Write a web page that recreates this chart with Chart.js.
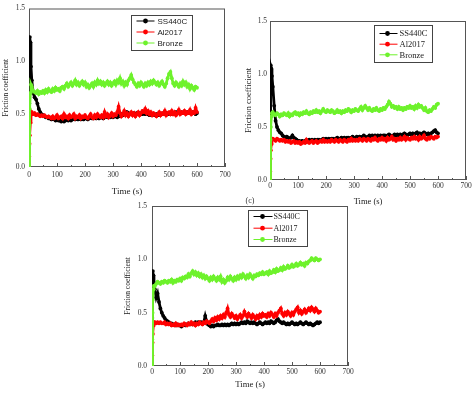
<!DOCTYPE html>
<html><head><meta charset="utf-8">
<script src="https://cdn.jsdelivr.net/npm/chart.js@4.4.1/dist/chart.umd.min.js"></script>
<style>
html,body{margin:0;padding:0;background:#fff;width:474px;height:395px;overflow:hidden;position:relative}
canvas{position:absolute}
</style></head>
<body>
<canvas id="c1" width="237" height="200" style="left:0;top:0"></canvas>
<canvas id="c2" width="237" height="210" style="left:237px;top:0"></canvas>
<canvas id="c3" width="240" height="200" style="left:120px;top:195px"></canvas>
<script>
// ---------- DATA ----------
const seriesLabels = ['SS440C', 'Al2017', 'Bronze'];
const xTicks = [0, 100, 200, 300, 400, 500, 600, 700];
const xMinorTicks = [50, 150, 250, 350, 450, 550, 650];
const yTicks = [0.0, 0.5, 1.0, 1.5];
const xTitle = 'Time (s)';
const yTitle = 'Friction coefficient';

// time (s): 0,1,2,3,5,7 then 10..600 every 5 s
const time = [0,1,2,3,5,7,
 10,15,20,25,30,35,40,45,50,55, 60,65,70,75,80,85,90,95,100,105,
 110,115,120,125,130,135,140,145,150,155, 160,165,170,175,180,185,190,195,200,205,
 210,215,220,225,230,235,240,245,250,255, 260,265,270,275,280,285,290,295,300,305,
 310,315,320,325,330,335,340,345,350,355, 360,365,370,375,380,385,390,395,400,405,
 410,415,420,425,430,435,440,445,450,455, 460,465,470,475,480,485,490,495,500,505,
 510,515,520,525,530,535,540,545,550,555, 560,565,570,575,580,585,590,595,600];

// ---- panel 1 (top left) ----
const p1_ss440c = [0,0.6,1.05,1.23,1.18,0.95,
 0.82,0.70,0.66,0.64,0.60,0.55,0.52,0.50,0.49,0.48, 0.47,0.47,0.46,0.46,0.45,0.46,0.45,0.44,0.45,0.44,
 0.44,0.43,0.44,0.43,0.44,0.45,0.44,0.45,0.44,0.45, 0.46,0.45,0.46,0.45,0.46,0.45,0.46,0.45,0.46,0.46,
 0.45,0.46,0.47,0.46,0.46,0.47,0.46,0.47,0.46,0.47, 0.47,0.46,0.47,0.48,0.47,0.48,0.47,0.48,0.47,0.48,
 0.48,0.47,0.49,0.48,0.50,0.49,0.51,0.50,0.52,0.51, 0.50,0.51,0.50,0.51,0.50,0.51,0.50,0.51,0.50,0.50,
 0.51,0.50,0.51,0.50,0.49,0.50,0.49,0.50,0.49,0.50, 0.50,0.49,0.50,0.50,0.51,0.50,0.51,0.50,0.51,0.50,
 0.51,0.50,0.51,0.52,0.51,0.52,0.51,0.52,0.51,0.52, 0.51,0.52,0.51,0.52,0.51,0.52,0.51,0.50,0.51];
const p1_al2017 = [0,0.1,0.22,0.3,0.42,0.5,
 0.52,0.50,0.51,0.49,0.50,0.49,0.48,0.49,0.48,0.49, 0.48,0.47,0.48,0.47,0.46,0.48,0.46,0.47,0.49,0.46,
 0.47,0.48,0.46,0.50,0.47,0.48,0.46,0.49,0.47,0.48, 0.50,0.46,0.48,0.47,0.49,0.46,0.48,0.47,0.49,0.47,
 0.46,0.48,0.50,0.47,0.46,0.49,0.47,0.50,0.48,0.47, 0.49,0.47,0.52,0.48,0.50,0.47,0.49,0.51,0.48,0.50,
 0.49,0.52,0.57,0.51,0.48,0.50,0.53,0.49,0.51,0.48, 0.50,0.52,0.49,0.51,0.48,0.50,0.52,0.49,0.51,0.53,
 0.52,0.55,0.51,0.53,0.50,0.52,0.49,0.51,0.50,0.48, 0.50,0.52,0.49,0.51,0.50,0.53,0.49,0.51,0.52,0.50,
 0.53,0.50,0.52,0.49,0.51,0.54,0.50,0.52,0.51,0.53, 0.50,0.52,0.51,0.54,0.50,0.52,0.51,0.56,0.52];
const p1_bronze = [0,0.2,0.4,0.55,0.7,0.78,
 0.76,0.72,0.71,0.70,0.72,0.69,0.71,0.70,0.72,0.70, 0.73,0.71,0.74,0.72,0.71,0.74,0.72,0.75,0.73,0.74,
 0.72,0.75,0.76,0.74,0.77,0.79,0.76,0.78,0.80,0.77, 0.79,0.82,0.78,0.80,0.77,0.79,0.81,0.78,0.80,0.76,
 0.78,0.75,0.77,0.79,0.76,0.80,0.78,0.82,0.79,0.81, 0.78,0.80,0.77,0.79,0.81,0.78,0.80,0.77,0.79,0.81,
 0.78,0.82,0.80,0.84,0.79,0.81,0.77,0.80,0.78,0.82, 0.84,0.87,0.83,0.80,0.78,0.76,0.79,0.77,0.80,0.78,
 0.76,0.79,0.77,0.80,0.78,0.81,0.79,0.82,0.80,0.78, 0.80,0.77,0.79,0.81,0.78,0.76,0.79,0.84,0.88,0.90,
 0.84,0.79,0.77,0.80,0.78,0.76,0.79,0.77,0.81,0.78, 0.80,0.76,0.78,0.74,0.77,0.75,0.73,0.76,0.75];

// ---- panel 2 (top right) ----
const p2_ss440c = [0,0.5,0.9,1.08,1.05,0.98,
 0.88,0.70,0.56,0.50,0.47,0.45,0.44,0.42,0.41,0.40, 0.41,0.40,0.39,0.40,0.42,0.40,0.39,0.38,0.37,0.37,
 0.36,0.37,0.36,0.37,0.36,0.37,0.38,0.37,0.38,0.37, 0.38,0.37,0.38,0.38,0.37,0.38,0.39,0.38,0.39,0.38,
 0.39,0.38,0.39,0.39,0.38,0.39,0.40,0.39,0.39,0.40, 0.39,0.40,0.39,0.40,0.40,0.39,0.40,0.41,0.40,0.40,
 0.41,0.40,0.41,0.40,0.41,0.42,0.41,0.40,0.41,0.42, 0.41,0.42,0.41,0.42,0.41,0.42,0.41,0.42,0.41,0.42,
 0.42,0.41,0.42,0.43,0.42,0.41,0.42,0.43,0.42,0.43, 0.42,0.43,0.42,0.43,0.44,0.43,0.42,0.43,0.44,0.43,
 0.44,0.43,0.44,0.45,0.43,0.44,0.43,0.44,0.45,0.44, 0.43,0.44,0.43,0.44,0.45,0.46,0.47,0.45,0.44];
const p2_al2017 = [0,0.08,0.2,0.28,0.34,0.38,
 0.39,0.38,0.37,0.39,0.38,0.37,0.38,0.37,0.38,0.36, 0.37,0.36,0.37,0.35,0.36,0.37,0.35,0.36,0.35,0.36,
 0.34,0.35,0.36,0.35,0.38,0.36,0.35,0.36,0.37,0.35, 0.36,0.37,0.35,0.36,0.37,0.36,0.38,0.36,0.37,0.36,
 0.37,0.36,0.38,0.37,0.36,0.38,0.37,0.36,0.38,0.37, 0.36,0.38,0.37,0.36,0.38,0.37,0.39,0.37,0.38,0.37,
 0.38,0.37,0.39,0.38,0.37,0.39,0.38,0.37,0.39,0.38, 0.37,0.39,0.38,0.40,0.38,0.37,0.39,0.38,0.40,0.38,
 0.39,0.37,0.40,0.38,0.39,0.41,0.38,0.39,0.37,0.39, 0.38,0.40,0.38,0.39,0.41,0.38,0.40,0.39,0.38,0.40,
 0.39,0.41,0.39,0.40,0.38,0.41,0.39,0.40,0.42,0.39, 0.38,0.40,0.39,0.41,0.40,0.39,0.41,0.40,0.41];
const p2_bronze = [0,0.2,0.38,0.5,0.6,0.63,
 0.64,0.62,0.61,0.63,0.62,0.60,0.62,0.61,0.63,0.62, 0.61,0.63,0.60,0.62,0.61,0.63,0.64,0.62,0.63,0.61,
 0.63,0.62,0.64,0.63,0.65,0.63,0.62,0.64,0.63,0.65, 0.64,0.66,0.64,0.65,0.63,0.65,0.67,0.65,0.64,0.66,
 0.65,0.64,0.66,0.65,0.63,0.64,0.66,0.64,0.65,0.63, 0.65,0.64,0.66,0.65,0.67,0.66,0.64,0.66,0.65,0.67,
 0.66,0.65,0.67,0.69,0.66,0.68,0.70,0.68,0.66,0.68, 0.66,0.65,0.67,0.66,0.68,0.66,0.65,0.67,0.66,0.68,
 0.67,0.69,0.71,0.74,0.72,0.69,0.70,0.68,0.69,0.67, 0.69,0.67,0.68,0.66,0.68,0.67,0.69,0.68,0.70,0.68,
 0.69,0.67,0.70,0.68,0.71,0.69,0.70,0.68,0.66,0.68, 0.65,0.64,0.66,0.65,0.67,0.69,0.68,0.71,0.72];

// ---- panel 3 (bottom) ----
const p3_ss440c = [0,0.45,0.75,0.89,0.85,0.78,
 0.72,0.64,0.68,0.60,0.54,0.50,0.47,0.45,0.43,0.42, 0.41,0.40,0.40,0.39,0.39,0.38,0.39,0.38,0.38,0.37,
 0.38,0.39,0.38,0.39,0.40,0.39,0.40,0.39,0.40,0.41, 0.40,0.41,0.40,0.41,0.40,0.41,0.47,0.42,0.39,0.38,
 0.37,0.38,0.37,0.38,0.38,0.39,0.38,0.38,0.39,0.38, 0.39,0.38,0.39,0.38,0.39,0.40,0.39,0.40,0.39,0.40,
 0.39,0.40,0.41,0.40,0.41,0.40,0.42,0.41,0.40,0.41, 0.40,0.41,0.40,0.39,0.40,0.41,0.40,0.39,0.40,0.41,
 0.40,0.41,0.40,0.42,0.41,0.40,0.41,0.43,0.44,0.42, 0.41,0.40,0.41,0.40,0.39,0.40,0.39,0.40,0.41,0.40,
 0.39,0.40,0.39,0.40,0.41,0.40,0.39,0.40,0.41,0.40, 0.39,0.40,0.39,0.38,0.39,0.40,0.41,0.40,0.41];
const p3_al2017 = [0,0.1,0.22,0.3,0.38,0.41,
 0.41,0.40,0.41,0.40,0.41,0.40,0.40,0.41,0.39,0.40, 0.39,0.40,0.38,0.39,0.38,0.40,0.38,0.39,0.38,0.39,
 0.38,0.40,0.39,0.38,0.40,0.39,0.41,0.39,0.40,0.38, 0.40,0.39,0.41,0.40,0.39,0.41,0.40,0.42,0.41,0.40,
 0.42,0.44,0.42,0.45,0.43,0.46,0.44,0.47,0.45,0.48, 0.46,0.50,0.54,0.48,0.46,0.49,0.47,0.45,0.47,0.44,
 0.46,0.48,0.45,0.47,0.51,0.48,0.46,0.49,0.47,0.45, 0.48,0.46,0.44,0.47,0.45,0.48,0.46,0.49,0.47,0.48,
 0.46,0.49,0.47,0.50,0.48,0.46,0.49,0.47,0.50,0.52, 0.54,0.49,0.47,0.50,0.48,0.51,0.49,0.47,0.50,0.48,
 0.51,0.53,0.55,0.50,0.52,0.49,0.51,0.53,0.50,0.52, 0.54,0.52,0.55,0.53,0.51,0.54,0.52,0.50,0.51];
const p3_bronze = [0,0.25,0.5,0.62,0.72,0.75,
 0.75,0.77,0.79,0.78,0.77,0.79,0.78,0.80,0.79,0.78, 0.80,0.79,0.81,0.78,0.80,0.79,0.81,0.80,0.82,0.80,
 0.83,0.82,0.84,0.83,0.86,0.84,0.87,0.89,0.86,0.88, 0.85,0.87,0.84,0.86,0.83,0.85,0.82,0.84,0.82,0.80,
 0.83,0.81,0.84,0.82,0.80,0.83,0.81,0.84,0.79,0.81, 0.78,0.80,0.83,0.81,0.84,0.82,0.80,0.83,0.81,0.84,
 0.82,0.85,0.83,0.86,0.84,0.82,0.85,0.83,0.86,0.84, 0.82,0.85,0.84,0.86,0.85,0.87,0.86,0.88,0.86,0.87,
 0.88,0.86,0.89,0.87,0.88,0.90,0.88,0.91,0.89,0.90, 0.92,0.90,0.93,0.91,0.92,0.94,0.92,0.93,0.95,0.93,
 0.94,0.96,0.94,0.95,0.97,0.95,0.96,0.94,0.97,0.96, 0.98,0.99,1.01,1.00,0.99,1.01,1.00,0.99,1.00];

// ---------- STYLE / LAYOUT ----------
const COLORS = ['#000000', '#ff0000', '#6ef22c'];
const DRAW_ORDER = [2, 1, 0]; // bronze on top
const SERIF = '"Liberation Serif", "Times New Roman", serif';
const SANS = '"Liberation Sans", Arial, sans-serif';

function pts(vals) { return time.map((t, i) => ({ x: t, y: vals[i] })); }

const panelPlugin = {
  id: 'panel',
  beforeDatasetsDraw(chart, args, o) {
    const { ctx, chartArea: a, scales: { x } } = chart;
    ctx.save();
    ctx.strokeStyle = '#555';
    ctx.lineWidth = 1;
    ctx.strokeRect(a.left + 0.5, a.top + 0.5, a.right - a.left - 1, a.bottom - a.top - 1);
    ctx.beginPath();
    xTicks.forEach(v => { const px = Math.round(x.getPixelForValue(v)) + 0.5; ctx.moveTo(px, a.bottom); ctx.lineTo(px, a.bottom - 4); });
    xMinorTicks.forEach(v => { const px = Math.round(x.getPixelForValue(v)) + 0.5; ctx.moveTo(px, a.bottom); ctx.lineTo(px, a.bottom - 2); });
    ctx.stroke();
    ctx.restore();
  },
  afterDatasetsDraw(chart, args, o) {
    const { ctx, chartArea: a } = chart;
    const L = o.legend;
    ctx.save();
    const bx = Math.round(a.left + L.dx) + 0.5, by = Math.round(a.top + L.dy) + 0.5;
    ctx.fillStyle = '#fff';
    ctx.fillRect(bx, by, L.w, L.h);
    ctx.strokeStyle = '#444';
    ctx.lineWidth = 1;
    ctx.strokeRect(bx, by, L.w, L.h);
    ctx.font = L.font;
    ctx.textBaseline = 'middle';
    ctx.textAlign = 'left';
    chart.data.datasets.forEach((ds, i) => {
      const ry = by + L.rows[i];
      ctx.strokeStyle = ds.borderColor;
      ctx.lineWidth = 1;
      ctx.beginPath();
      ctx.moveTo(bx + L.lx0, ry); ctx.lineTo(bx + L.lx1, ry);
      ctx.stroke();
      ctx.fillStyle = ds.borderColor;
      ctx.beginPath();
      ctx.arc(bx + L.mx, ry, 2.4, 0, Math.PI * 2);
      ctx.fill();
      ctx.fillStyle = '#222';
      ctx.fillText(ds.label, bx + L.tx, ry + 0.5);
    });
    if (o.tag) {
      ctx.font = '8px ' + SERIF;
      ctx.fillStyle = '#333';
      ctx.textAlign = 'center';
      ctx.fillText(o.tag.text, a.left + o.tag.dx, a.top + o.tag.dy);
    }
    ctx.restore();
  }
};

function makeChart(id, vals, L) {
  const ctx = document.getElementById(id);
  new Chart(ctx, {
    type: 'line',
    data: {
      datasets: seriesLabels.map((lab, i) => ({
        label: lab,
        data: pts(vals[i]),
        borderColor: COLORS[i],
        backgroundColor: COLORS[i],
        pointBackgroundColor: COLORS[i],
        pointBorderWidth: 0,
        pointRadius: 1.9,
        borderWidth: 2.8,
        tension: 0,
        order: DRAW_ORDER[i]
      }))
    },
    options: {
      responsive: false,
      animation: false,
      devicePixelRatio: 1,
      events: [],
      layout: { padding: { top: L.padTop, right: L.padRight, left: 0, bottom: 0 } },
      plugins: {
        legend: { display: false },
        tooltip: { enabled: false },
        panel: { legend: L.legend, tag: L.tag }
      },
      scales: {
        x: {
          type: 'linear', min: 0, max: 700,
          afterBuildTicks: s => { s.ticks = xTicks.map(v => ({ value: v })); },
          ticks: { color: '#333', font: { family: SERIF, size: 7.5 }, padding: L.xPad, maxRotation: 0, autoSkip: false },
          grid: { display: false, drawTicks: false },
          border: { display: false },
          title: { display: true, text: xTitle, color: '#222', font: { family: SERIF, size: L.xtSize, lineHeight: 1.2 }, padding: { top: 0, bottom: L.xtPad } },
          afterFit: s => { s.height = L.xH; }
        },
        y: {
          type: 'linear', min: 0, max: 1.5,
          afterBuildTicks: s => { s.ticks = yTicks.map(v => ({ value: v })); },
          ticks: { color: '#333', font: { family: SERIF, size: 7.5 }, padding: L.yPad, callback: v => Number(v).toFixed(1) },
          grid: { display: false, drawTicks: false },
          border: { display: false },
          title: { display: true, text: yTitle, color: '#222', font: { family: SERIF, size: L.ytSize, lineHeight: 1.2 }, padding: { top: L.ytPad, bottom: 0 } },
          afterFit: s => { s.width = L.yW; }
        }
      }
    },
    plugins: [panelPlugin]
  });
}

makeChart('c1', [p1_ss440c, p1_al2017, p1_bronze], {
  padTop: 7, padRight: 12, xH: 33, yW: 29, xPad: 4, yPad: 4,
  xtSize: 9, xtPad: 3, ytSize: 7.5, ytPad: 1.5,
  legend: { dx: 102, dy: 6, w: 61, h: 35, rows: [5.5, 16.5, 27.5], lx0: 5, lx1: 23, mx: 14, tx: 26, font: '8px ' + SANS }
});
makeChart('c2', [p2_ss440c, p2_al2017, p2_bronze], {
  padTop: 21, padRight: 8, xH: 30, yW: 33, xPad: 2, yPad: 3,
  xtSize: 8.5, xtPad: 3, ytSize: 8.5, ytPad: 7,
  legend: { dx: 104, dy: 4, w: 58, h: 37, rows: [8, 18.7, 29.3], lx0: 5, lx1: 23, mx: 13, tx: 25, font: '8.5px ' + SERIF }
});
makeChart('c3', [p3_ss440c, p3_al2017, p3_bronze], {
  padTop: 11, padRight: 12, xH: 29, yW: 32, xPad: 2, yPad: 5,
  xtSize: 8.8, xtPad: 5, ytSize: 7.5, ytPad: 3.5,
  legend: { dx: 96, dy: 4, w: 59, h: 36, rows: [6, 17.7, 29], lx0: 5, lx1: 24, mx: 14, tx: 25, font: '8px ' + SERIF },
  tag: { text: '(c)', dx: 98, dy: -5 }
});
</script>
</body></html>
